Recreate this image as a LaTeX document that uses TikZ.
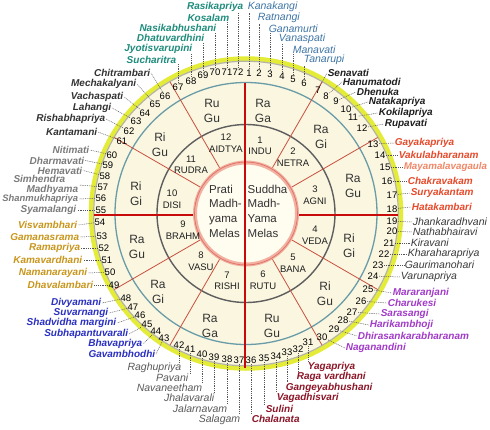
\documentclass[tikz,border=0pt]{standalone}
\usepackage{fontspec}
\setmainfont{Liberation Sans}
\usetikzlibrary{calc}
\definecolor{cream}{HTML}{FAF6E0}
\definecolor{innerfill}{HTML}{FFFCF0}
\definecolor{yring}{HTML}{E4EC38}
\definecolor{ygray}{HTML}{B4B4A4}
\definecolor{tealring}{HTML}{6A9CA8}
\definecolor{darkring}{HTML}{5E5E5E}
\definecolor{spokec}{HTML}{C8503E}
\definecolor{axisc}{HTML}{C80A0A}
\definecolor{innerb}{HTML}{F2B0A0}
\definecolor{innerl}{HTML}{E07068}
\definecolor{gA}{HTML}{3E75A6}
\definecolor{gB}{HTML}{1E1E1E}
\definecolor{gC}{HTML}{E64A2A}
\definecolor{gCl}{HTML}{F08868}
\definecolor{gD}{HTML}{3A3A3A}
\definecolor{gE}{HTML}{A23BC8}
\definecolor{gF}{HTML}{8C1628}
\definecolor{gG}{HTML}{5A5A5A}
\definecolor{gH}{HTML}{2A30C0}
\definecolor{gI}{HTML}{C9961C}
\definecolor{gJ}{HTML}{7B7B7B}
\definecolor{gK}{HTML}{333333}
\definecolor{gL}{HTML}{1E8C7C}
\definecolor{ldrc}{HTML}{555555}
\begin{document}
\begin{tikzpicture}[x=1pt,y=-1pt,
  num/.style={inner sep=0.6pt, text=black, font=\fontsize{9.5}{10}\selectfont},
  nm/.style={inner sep=0.6pt, font=\fontsize{10}{10}\selectfont\bfseries\itshape},
  nmr/.style={inner sep=0.6pt, font=\fontsize{10.5}{10.5}\selectfont\itshape},
  seg/.style={inner sep=0pt, align=center, text=gK, font=\fontsize{12}{15}\selectfont},
  chk/.style={inner sep=0pt, align=center, text=gB, font=\fontsize{9.5}{11.5}\selectfont},
  inr/.style={inner sep=0pt, align=left, anchor=west, text=gK, font=\fontsize{11.5}{14.7}\selectfont},
  ldr/.style={draw=ldrc, line width=0.5pt, dash pattern=on 0.9pt off 0.9pt},
  spoke/.style={draw=spokec, line width=0.8pt},
  axisline/.style={draw=axisc, line width=1.1pt}]
\useasboundingbox (0,0) rectangle (490,429);
\fill[white] (0,0) rectangle (490,429);
\coordinate (C) at (246,213.5);
% disk and rings
\fill[cream] (C) circle (154pt);
\draw[yring, line width=4.5pt] (C) circle (155pt);
\draw[ygray, line width=1.2pt] (C) circle (152.3pt);
\draw[tealring, line width=1.3pt] (C) circle (131pt);
\draw[darkring, line width=1.4pt] (C) circle (89pt);
% spokes
\foreach \a in {30,60,120,150,210,240,300,330}
  \draw[spoke] ($(C)+(\a:51pt)$) -- ($(C)+(\a:152pt)$);
\draw[axisline] ($(C)+(180:152pt)+(0,-1.5pt)$) -- ($(C)+(180:51pt)+(0,-1.5pt)$);
\draw[axisline] ($(C)+(0:51pt)+(0,-1.5pt)$) -- ($(C)+(0:152pt)+(0,-1.5pt)$);
% inner circle
\fill[innerfill] (C) circle (51pt);
\draw[innerb, line width=4pt] (C) circle (51pt);
\draw[innerl, line width=0.7pt] (C) circle (51.5pt);
\draw[axisline] ($(C)+(90:131pt)+(-1pt,0)$) -- ($(C)+(270:154pt)+(-1pt,0)$);
% inner texts
\node[inr] (prati) at (209,211) {Prati\\Madh-\\yama\\Melas};
\node[inr] (suddha) at (247.5,211) {Suddha\\Madh-\\Yama\\Melas};
% chakra labels
\node[chk] (c1) at (260,146) {1\\INDU};
\node[chk] (c2) at (293,157) {2\\NETRA};
\node[chk] (c3) at (315,195) {3\\AGNI};
\node[chk] (c4) at (315,235) {4\\VEDA};
\node[chk] (c5) at (293,263) {5\\BANA};
\node[chk] (c6) at (263,280) {6\\RUTU};
\node[chk] (c7) at (227,281) {7\\RISHI};
\node[chk] (c8) at (201,261) {8\\VASU};
\node[chk] (c9) at (183,230) {9\\BRAHM};
\node[chk] (c10) at (172,199) {10\\DISI};
\node[chk] (c11) at (191,165) {11\\RUDRA};
\node[chk] (c12) at (226,143) {12\\AIDTYA};
% segment labels
\node[seg] (s1) at (263,111) {Ra\\Ga};
\node[seg] (s2) at (321,137) {Ra\\Gi};
\node[seg] (s3) at (353,186) {Ra\\Gu};
\node[seg] (s4) at (349,246) {Ri\\Gi};
\node[seg] (s5) at (325,294) {Ri\\Gu};
\node[seg] (s6) at (272,326) {Ru\\Gu};
\node[seg] (s7) at (210,326) {Ra\\Ga};
\node[seg] (s8) at (158,292) {Ra\\Gi};
\node[seg] (s9) at (137,247) {Ra\\Gu};
\node[seg] (s10) at (136,194) {Ri\\Gi};
\node[seg] (s11) at (160,145) {Ri\\Gu};
\node[seg] (s12) at (212,111) {Ru\\Gu};
% numbers
\foreach \n/\x/\y in {1/249/73, 2/259/73, 3/270/74, 4/282/76, 5/293/79, 6/304/83,
  7/318/90, 8/326/96, 9/336/101, 10/346/109, 11/353/117, 12/362/128,
  13/373/144, 14/380/155, 15/385/167, 16/387/181, 17/392/195, 18/392/209,
  19/392/221, 20/392/231, 21/389/243, 22/384/254, 23/378/265, 24/373/276,
  25/368/289, 26/361/301, 27/352/312, 28/343/320, 29/334/329, 30/322/337,
  31/308/342, 32/298/349, 33/287/352, 34/276/356, 35/264/358, 36/251/360,
  37/239/360, 38/227/359, 39/214/357, 40/202/354, 41/190/349, 42/179/345,
  43/164/338, 44/156/331, 45/147/324, 46/140/315, 47/133/307, 48/126/298,
  49/114/285, 50/110/272, 51/107/260, 52/104/248, 53/102/236, 54/100/222,
  55/101/210, 56/101/198, 57/103/187, 58/105/176, 59/108/165, 60/112/155,
  61/122/141, 62/129/131, 63/136/121, 64/145/113, 65/155/104, 66/165/96,
  67/178/87, 68/191/81, 69/203/75, 70/215/72, 71/227/72, 72/238/72}
  \node[num] (n\n) at (\x,\y) {\n};
% group 1
\begin{scope}[every node/.style={nmr, text=gA, anchor=west}]
\node (m1) at (247,7) {Kanakangi};
\node (m2) at (257,18) {Ratnangi};
\node (m3) at (268,28.5) {Ganamurti};
\node (m4) at (278,38.5) {Vanaspati};
\node (m5) at (292,49.5) {Manavati};
\node (m6) at (303,60) {Tanarupi};
\end{scope}
% group 2
\begin{scope}[every node/.style={nm, text=gB, anchor=west}]
\node (m7) at (327,73) {Senavati};
\node (m8) at (342,82) {Hanumatodi};
\node (m9) at (356,92) {Dhenuka};
\node (m10) at (368,102) {Natakapriya};
\node (m11) at (378,113) {Kokilapriya};
\node (m12) at (384,124) {Rupavati};
\end{scope}
% group 3
\begin{scope}[every node/.style={nm, text=gC, anchor=west}]
\node (m13) at (394,143) {Gayakapriya};
\node (m14) at (398,155) {Vakulabharanam};
\node[text=gCl, font=\fontsize{9.8}{10}\selectfont\bfseries\itshape] (m15) at (403,167) {Mayamalavagaula};
\node (m16) at (407,181) {Chakravakam};
\node (m17) at (410,193) {Suryakantam};
\node (m18) at (411,207) {Hatakambari};
\end{scope}
% group 4
\begin{scope}[every node/.style={nmr, text=gD, anchor=west}]
\node (m19) at (412,222) {Jhankaradhvani};
\node (m20) at (412,232) {Nathabhairavi};
\node (m21) at (410,243) {Kiravani};
\node (m22) at (407,254) {Kharaharapriya};
\node (m23) at (404,265) {Gaurimanohari};
\node (m24) at (400,277) {Varunapriya};
\end{scope}
% group 5
\begin{scope}[every node/.style={nm, text=gE, anchor=west}]
\node (m25) at (392,293) {Mararanjani};
\node (m26) at (387,303) {Charukesi};
\node (m27) at (380,314) {Sarasangi};
\node (m28) at (369,325) {Harikambhoji};
\node (m29) at (357,336) {Dhirasankarabharanam};
\node (m30) at (345,348) {Naganandini};
\end{scope}
% group 6
\begin{scope}[every node/.style={nm, text=gF, anchor=west}]
\node (m31) at (307,367) {Yagapriya};
\node (m32) at (296,377) {Raga vardhani};
\node (m33) at (285,388) {Gangeyabhushani};
\node (m34) at (276,398) {Vagadhisvari};
\node (m35) at (265,409) {Sulini};
\node (m36) at (251,419) {Chalanata};
\end{scope}
% group 7
\begin{scope}[every node/.style={nmr, text=gG, anchor=east}]
\node (m37) at (241,420) {Salagam};
\node (m38) at (228,409) {Jalarnavam};
\node (m39) at (215,398) {Jhalavarali};
\node (m40) at (203,388) {Navaneetham};
\node (m41) at (189,378) {Pavani};
\node (m42) at (182,368) {Raghupriya};
\end{scope}
% group 8
\begin{scope}[every node/.style={nm, text=gH, anchor=east}]
\node (m43) at (156,354) {Gavambhodhi};
\node (m44) at (143,344) {Bhavapriya};
\node (m45) at (129,334) {Subhapantuvarali};
\node (m46) at (117,323) {Shadvidha margini};
\node (m47) at (109,313) {Suvarnangi};
\node (m48) at (102,303) {Divyamani};
\end{scope}
% group 9
\begin{scope}[every node/.style={nm, text=gI, anchor=east}]
\node (m49) at (94,285) {Dhavalambari};
\node (m50) at (88,273) {Namanarayani};
\node (m51) at (83,260) {Kamavardhani};
\node (m52) at (81,248) {Ramapriya};
\node (m53) at (80,237) {Gamanasrama};
\node (m54) at (78,225) {Visvambhari};
\end{scope}
% group 10
\begin{scope}[every node/.style={nm, text=gJ, anchor=east}]
\node (m55) at (77,210) {Syamalangi};
\node[font=\fontsize{9.4}{10}\selectfont\bfseries\itshape] (m56) at (79,199) {Shanmukhapriya};
\node[align=right, font=\fontsize{10}{9.3}\selectfont\bfseries\itshape] (m57) at (79,185) {Simhendra\hspace*{13pt}\\Madhyama};
\node (m58) at (83,170.5) {Hemavati};
\node (m59) at (85,160.5) {Dharmavati};
\node (m60) at (90,150) {Nitimati};
\end{scope}
% group 11
\begin{scope}[every node/.style={nm, text=gK, anchor=east}]
\node (m61) at (98,132) {Kantamani};
\node (m62) at (106,119) {Rishabhapriya};
\node (m63) at (112,108) {Lahangi};
\node (m64) at (124,97) {Vachaspati};
\node (m65) at (137,84) {Mechakalyani};
\node (m66) at (151,73) {Chitrambari};
\end{scope}
% group 12
\begin{scope}[every node/.style={nm, text=gL, anchor=east}]
\node (m67) at (177,60) {Sucharitra};
\node (m68) at (193,49) {Jyotisvarupini};
\node (m69) at (205,38) {Dhatuvardhini};
\node (m70) at (217,28) {Nasikabhushani};
\node (m71) at (230,18) {Kosalam};
\node (m72) at (244,7) {Rasikapriya};
\end{scope}
% leaders
\foreach \n in {1,...,6,67,68,69,70,71,72}
  \draw[ldr] (n\n.north) -- (n\n.north |- m\n.south);
\foreach \n in {31,...,42}
  \draw[ldr] (n\n.south) -- (n\n.south |- m\n.north);
\foreach \n in {7,...,30}
  \draw[ldr] (n\n) -- (m\n.west);
\foreach \n in {43,...,66}
  \draw[ldr] (n\n) -- (m\n.east);
\end{tikzpicture}
\end{document}
